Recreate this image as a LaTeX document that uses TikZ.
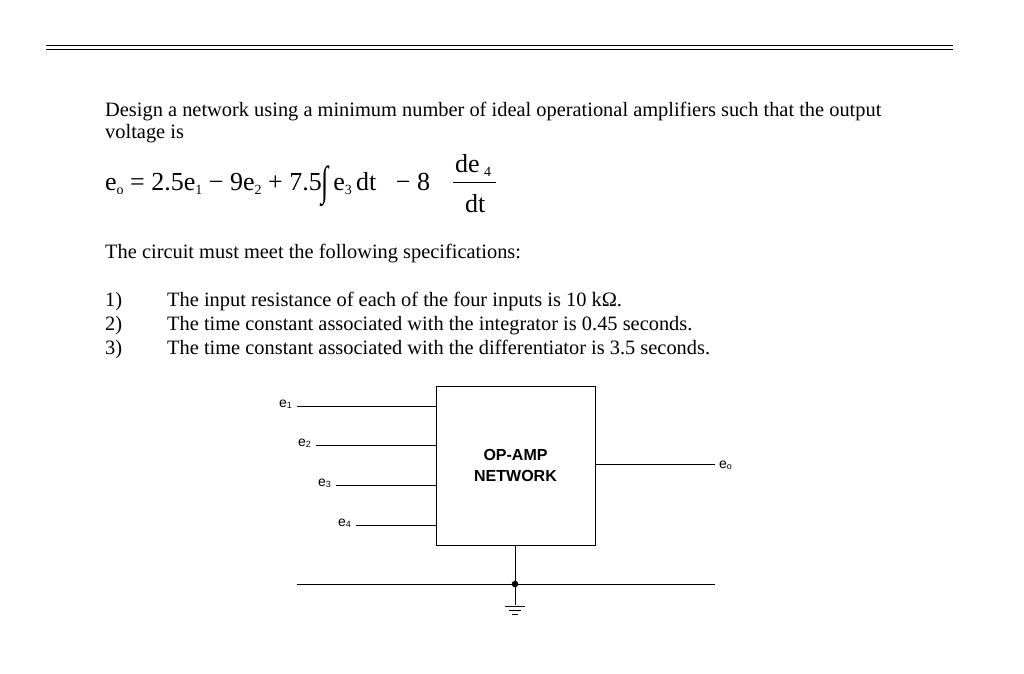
\documentclass[tikz,border=0pt]{standalone}
\usepackage{fontspec}
\setmainfont{Liberation Serif}
\newfontfamily\lsans{Liberation Sans}
\newcommand{\sbs}[1]{\raisebox{-0.25ex}{\fontsize{9}{10}\selectfont #1}}
\newcommand{\esb}[1]{\raisebox{-0.35ex}{\fontsize{14}{16}\selectfont #1}}
\begin{document}
\begin{tikzpicture}[x=1pt,y=-1pt,
  txt/.style={anchor=base west,inner sep=0pt,font=\fontsize{20.4}{23}\selectfont},
  eq/.style={anchor=base west,inner sep=0pt,font=\fontsize{26}{28}\selectfont},
  lab/.style={anchor=base east,inner sep=0pt,font=\lsans\fontsize{14}{16}\selectfont},
  wire/.style={line width=0.8pt}]
\useasboundingbox (0,0) rectangle (1024,673);
\draw[line width=1pt] (46,45) -- (953,45);
\draw[line width=1pt] (46,49) -- (953,49);
\node[txt] (t1) at (105,116) {Design a network using a minimum number of ideal operational amplifiers such that the output};
\node[txt] (t2) at (105,138) {voltage is};
\node[eq] (eqn) at (105,190) {e\esb{o} = 2.5e\esb{1} − 9e\esb{2} + 7.5\raisebox{-5pt}{\scalebox{1}[1.6]{∫}}\,e\esb{3}\,dt \ \ − 8};
\node[eq] (num) at (455,172) {de\,\esb{4}};
\node[eq] (den) at (465,212) {dt};
\draw[line width=0.8pt] (453,182) -- (496,182);
\node[txt] (t3) at (105,258) {The circuit must meet the following specifications:};
\node[txt] (n1) at (105,306) {1)};
\node[txt] (n2) at (105,330) {2)};
\node[txt] (n3) at (105,354) {3)};
\node[txt] (s1) at (167,306) {The input resistance of each of the four inputs is 10 kΩ.};
\node[txt] (s2) at (167,330) {The time constant associated with the integrator is 0.45 seconds.};
\node[txt] (s3) at (167,354) {The time constant associated with the differentiator is 3.5 seconds.};
\node[draw,wire,minimum width=159pt,minimum height=159pt,inner sep=0pt,
  font=\lsans\bfseries\fontsize{16}{21}\selectfont,align=center] (box) at (515.5,465.5) {OP-AMP\\NETWORK};
\coordinate (i1) at (297,406); \coordinate (i2) at (316,445);
\coordinate (i3) at (336,485); \coordinate (i4) at (356,525);
\draw[wire] (i1) -- (box.west |- i1);
\draw[wire] (i2) -- (box.west |- i2);
\draw[wire] (i3) -- (box.west |- i3);
\draw[wire] (i4) -- (box.west |- i4);
\node[lab] (l1) at (292,407) {e\sbs{1}};
\node[lab] (l2) at (311,446) {e\sbs{2}};
\node[lab] (l3) at (331,486) {e\sbs{3}};
\node[lab] (l4) at (351,526) {e\sbs{4}};
\coordinate (o) at (715,464);
\draw[wire] (box.east |- o) -- (o);
\node[lab,anchor=base west] (lo) at (719,468) {e\sbs{o}};
\coordinate (gl) at (297,584); \coordinate (gr) at (715,584);
\draw[wire] (gl) -- (gr);
\coordinate (j) at (515,584); \coordinate (g) at (515,605);
\draw[wire] (box.south -| j) -- (g);
\fill (j) circle (3.3pt);
\draw[wire] (505,606) -- (525,606);
\draw[wire] (509,610) -- (521,610);
\draw[wire] (512,614) -- (518,614);
\end{tikzpicture}
\end{document}
